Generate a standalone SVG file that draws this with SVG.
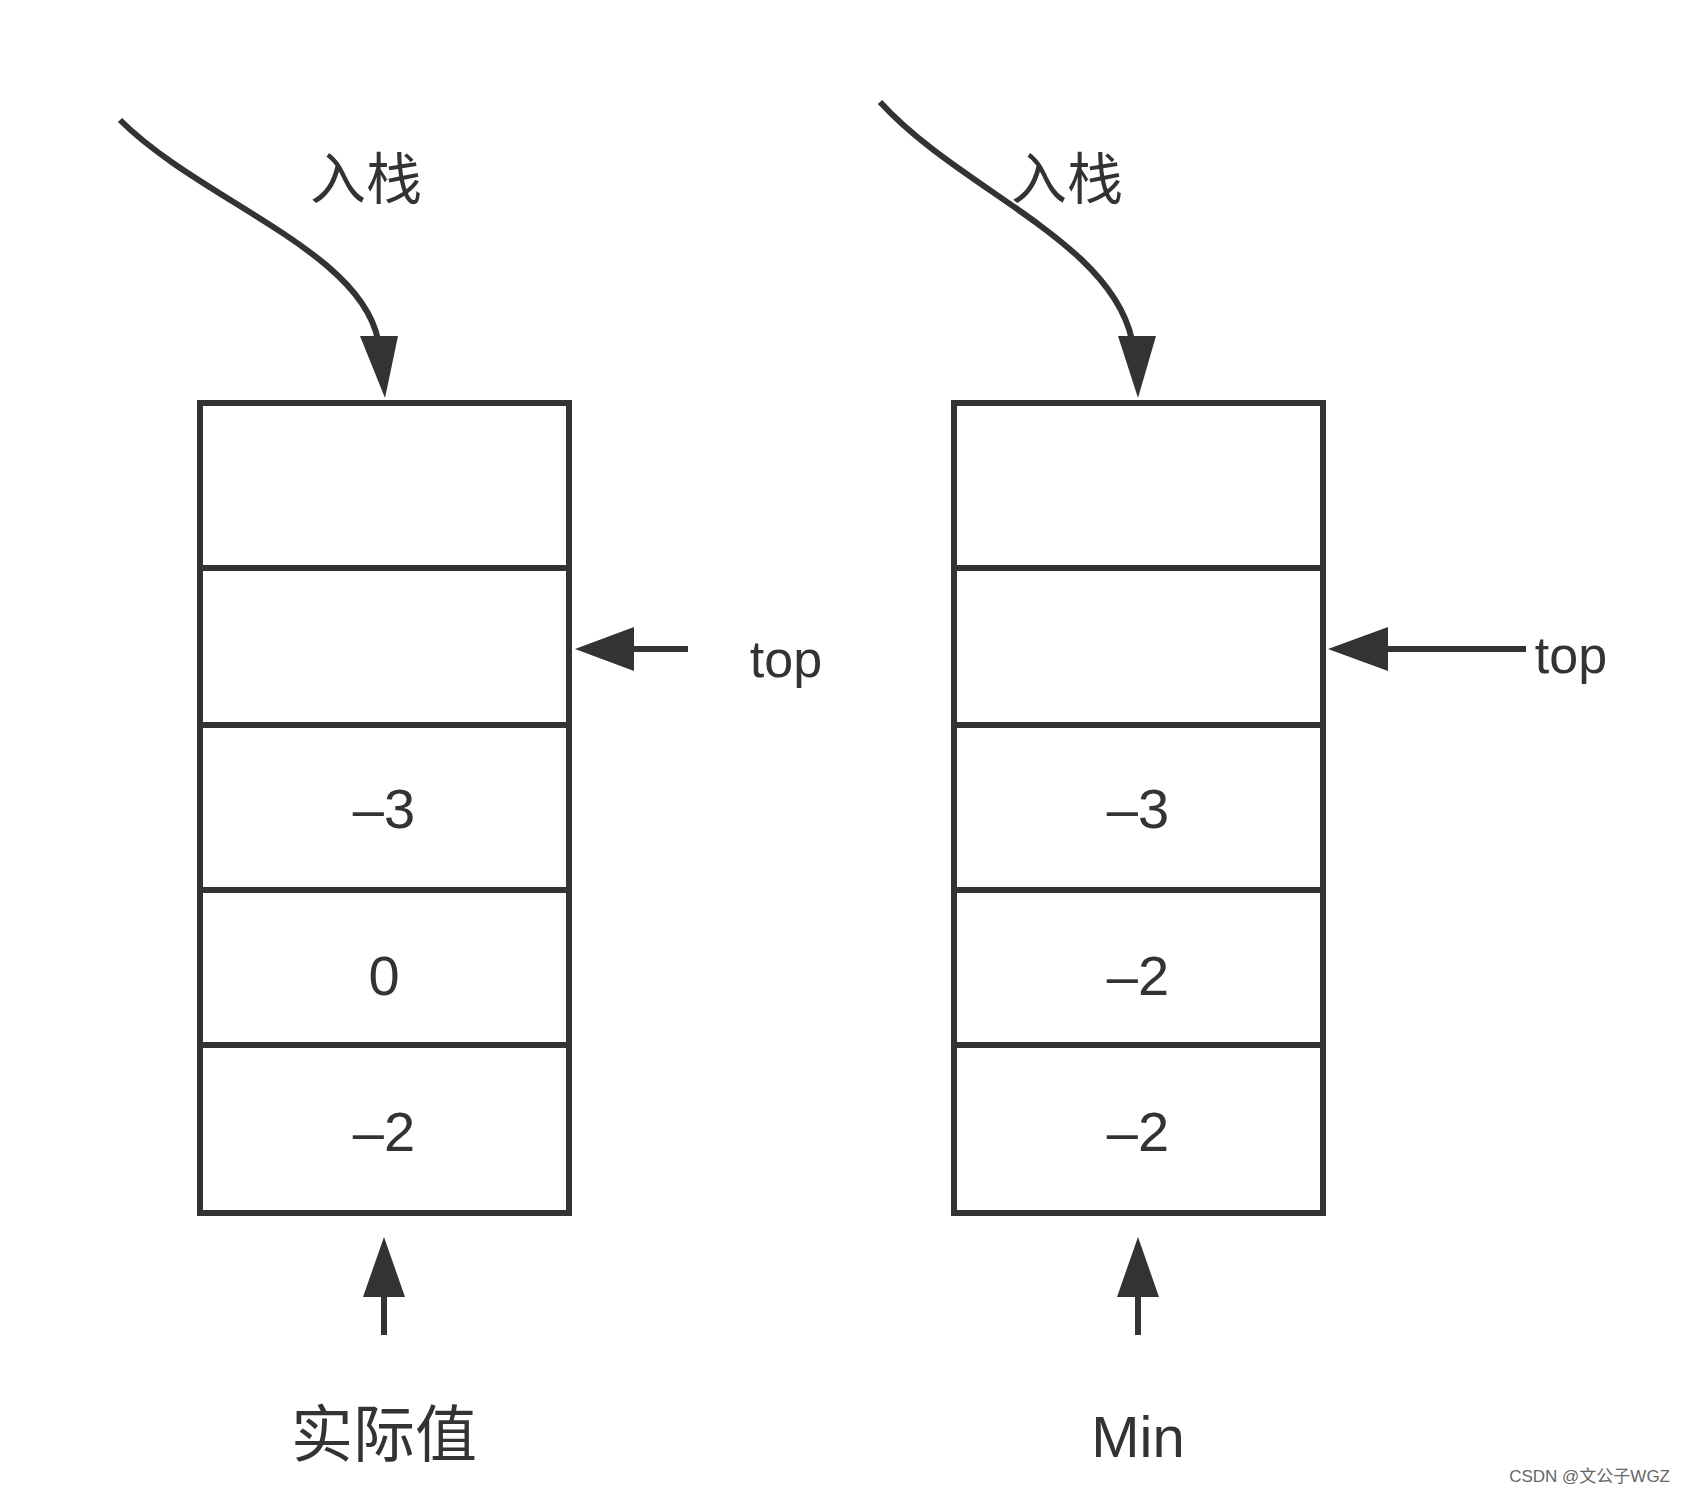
<svg xmlns="http://www.w3.org/2000/svg" width="1686" height="1494" viewBox="0 0 1686 1494">
<style>
.box{fill:none;stroke:#333;stroke-width:6}
.ln{fill:none;stroke:#333;stroke-width:6}
.t{font-family:"Liberation Sans","Noto Sans CJK SC",sans-serif;fill:#333;text-anchor:middle}
.v{font-size:56px}
</style>
<defs>
<marker id="ah" viewBox="0 0 10 10" refX="10" refY="5" markerWidth="5" markerHeight="5" orient="auto" markerUnits="userSpaceOnUse" style="overflow:visible">
<path d="M0,0 L10,5 L0,10 Z" fill="#333"/>
</marker>
</defs>
<rect width="1686" height="1494" fill="#fff"/>
<g id="stack-left">
<rect class="box" x="200" y="403" width="369" height="810"/>
<line class="ln" x1="200" y1="568" x2="569" y2="568"/>
<line class="ln" x1="200" y1="725" x2="569" y2="725"/>
<line class="ln" x1="200" y1="890" x2="569" y2="890"/>
<line class="ln" x1="200" y1="1045" x2="569" y2="1045"/>
<text class="t v" x="384" y="828">–3</text>
<text class="t v" x="384" y="995">0</text>
<text class="t v" x="384" y="1151">–2</text>
</g>
<g id="stack-right">
<rect class="box" x="954" y="403" width="369" height="810"/>
<line class="ln" x1="954" y1="568" x2="1323" y2="568"/>
<line class="ln" x1="954" y1="725" x2="1323" y2="725"/>
<line class="ln" x1="954" y1="890" x2="1323" y2="890"/>
<line class="ln" x1="954" y1="1045" x2="1323" y2="1045"/>
<text class="t v" x="1138" y="828">–3</text>
<text class="t v" x="1138" y="995">–2</text>
<text class="t v" x="1138" y="1151">–2</text>
</g>
<g id="connectors">
<path class="ln" d="M120 120 C 200 200 360 250 378 340"/>
<path d="M360 336 L398 336 L385 398 Z" fill="#333"/>
<path class="ln" d="M880 102 C 960 190 1110 240 1132 340"/>
<path d="M1118 336 L1156 336 L1138 398 Z" fill="#333"/>
<line class="ln" x1="688" y1="649" x2="630" y2="649"/>
<path d="M575 649 L634 627 L634 671 Z" fill="#333"/>
<line class="ln" x1="1526" y1="649" x2="1385" y2="649"/>
<path d="M1328 649 L1388 627 L1388 671 Z" fill="#333"/>
<line class="ln" x1="384" y1="1335" x2="384" y2="1292"/>
<path d="M384 1237 L363 1297 L405 1297 Z" fill="#333"/>
<line class="ln" x1="1138" y1="1335" x2="1138" y2="1292"/>
<path d="M1138 1237 L1117 1297 L1159 1297 Z" fill="#333"/>
</g>
<g id="labels">
<text class="t" x="366" y="199" font-size="56">入栈</text>
<text class="t" x="1067" y="199" font-size="56">入栈</text>
<text class="t" x="786" y="677" font-size="52">top</text>
<text class="t" x="1571" y="673" font-size="52">top</text>
<text class="t" x="384" y="1457" font-size="62">实际值</text>
<text class="t" x="1138" y="1457" font-size="58">Min</text>
<text x="1670" y="1482" font-size="17" fill="#666" text-anchor="end" font-family="Liberation Sans,'Noto Sans CJK SC',sans-serif">CSDN @文公子WGZ</text>
</g>
</svg>
